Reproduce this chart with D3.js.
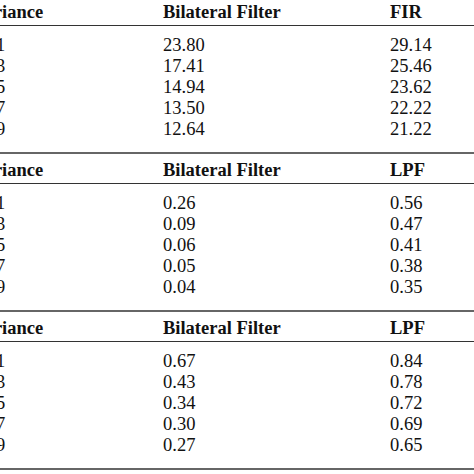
<!DOCTYPE html><html><head><script src="https://cdn.jsdelivr.net/npm/d3@7"></script>
<style>body{margin:0;background:#fff}</style></head><body><svg id="c" width="474" height="474"></svg><script>
const variances=["0.1","0.3","0.5","0.7","0.9"];
const headers=[["Variance","Bilateral Filter","FIR"],["Variance","Bilateral Filter","LPF"],["Variance","Bilateral Filter","LPF"]];
const bilateral=[["23.80","17.41","14.94","13.50","12.64"],["0.26","0.09","0.06","0.05","0.04"],["0.67","0.43","0.34","0.30","0.27"]];
const other=[["29.14","25.46","23.62","22.22","21.22"],["0.56","0.47","0.41","0.38","0.35"],["0.84","0.78","0.72","0.69","0.65"]];
const svg=d3.select("#c");
const font="'Liberation Serif',serif";
const secY=d3.scaleLinear().domain([0,1]).range([0,158]);
const rowY=d3.scaleLinear().domain([0,1]).range([46,67]);
const colX=[-27,163,390];
headers.forEach((h,s)=>{
  const g=svg.append("g").attr("transform",`translate(0,${secY(s)})`);
  if(s>0) g.append("line").attr("x1",0).attr("x2",474).attr("y1",-5).attr("y2",-5).attr("stroke","#333").attr("stroke-width",1.6);
  g.append("line").attr("x1",0).attr("x2",474).attr("y1",25.5).attr("y2",25.5).attr("stroke","#333").attr("stroke-width",1);
  h.forEach((t,i)=>g.append("text").attr("x",colX[i]).attr("y",18).text(t).attr("font-family",font).attr("font-weight","bold").attr("font-size",18.5).attr("fill","#111"));
  variances.forEach((v,r)=>{
    [v,bilateral[s][r],other[s][r]].forEach((t,i)=>g.append("text").attr("x",i==0?-18:colX[i]).attr("y",rowY(r)+5).text(t).attr("font-family",font).attr("font-size",18.5).attr("fill","#111"));
  });
});
svg.append("line").attr("x1",0).attr("x2",474).attr("y1",469).attr("y2",469).attr("stroke","#333").attr("stroke-width",1.6);
</script></body></html>
